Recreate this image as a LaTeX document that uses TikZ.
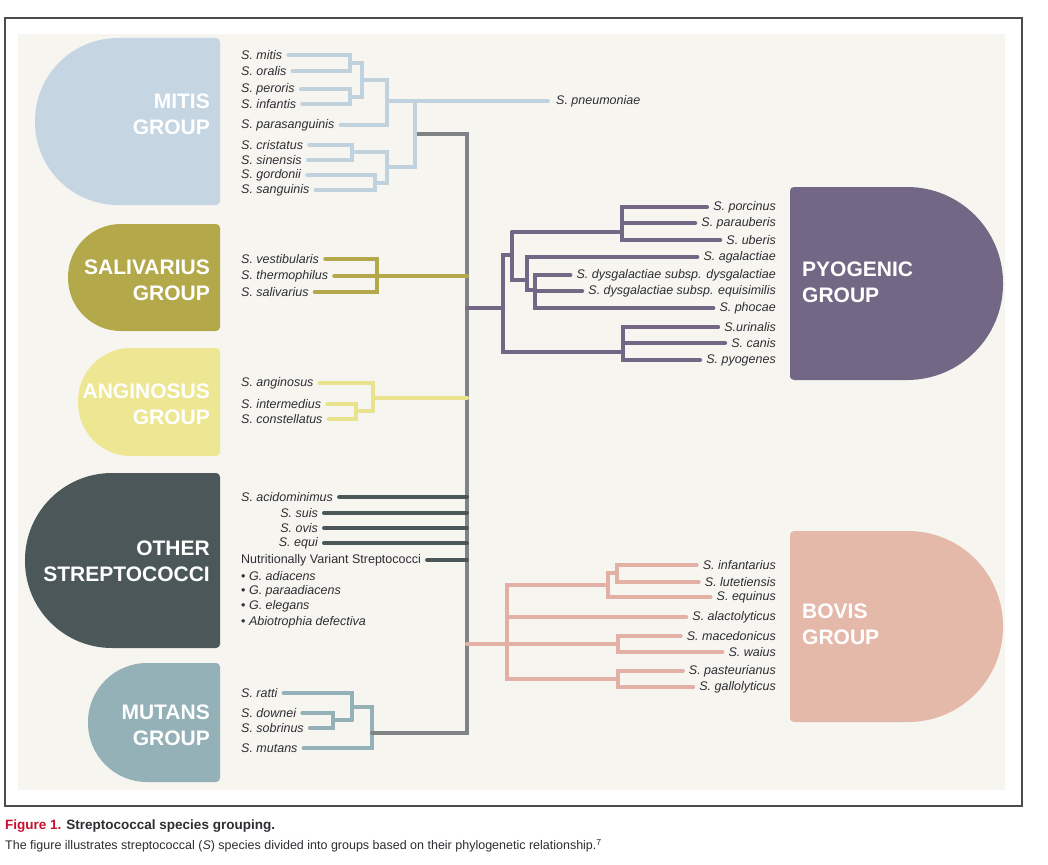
\documentclass[tikz,border=0pt]{standalone}
\usepackage{fontspec}
\setmainfont{Liberation Sans}
\definecolor{bgc}{HTML}{F6F5F0}
\definecolor{mitC}{HTML}{C5D5E2}
\definecolor{mitL}{HTML}{C1D2DF}
\definecolor{salC}{HTML}{B3A94A}
\definecolor{angC}{HTML}{EDE794}
\definecolor{angL}{HTML}{E8E38C}
\definecolor{othC}{HTML}{4B5759}
\definecolor{mutC}{HTML}{93B1B6}
\definecolor{pyoC}{HTML}{726784}
\definecolor{bovC}{HTML}{E5B9AA}
\definecolor{bovL}{HTML}{E2B0A4}
\definecolor{backC}{HTML}{808386}
\definecolor{txt}{HTML}{2E2E33}
\definecolor{figred}{HTML}{C8102E}
\tikzset{
 sp/.style={inner sep=0pt,font=\fontsize{12.5}{13}\selectfont\itshape,text=txt},
 grp/.style={inner sep=0pt,font=\fontsize{21}{26}\selectfont\bfseries,text=white,align=right},
 grpR/.style={inner sep=0pt,font=\fontsize{21}{26}\selectfont\bfseries,text=white,align=left},
 br/.style={line width=4pt,line cap=round,line join=miter},
}
\begin{document}
\begin{tikzpicture}[x=1pt,y=-1pt]
\useasboundingbox (0,0) rectangle (1048,864);
\fill[white] (0,0) rectangle (1048,864);
\draw[line width=1.5pt,black!70] (5,18) rectangle (1022,806);
\fill[bgc] (18,34) rectangle (1005,790);
% left group shapes
\fill[mitC] (220,205) [rounded corners=4pt] -- (220,38) [rounded corners=83pt] -- (35,38) -- (35,205) [rounded corners=4pt] -- (220,205) -- cycle;
\fill[salC] (220,331) [rounded corners=4pt] -- (220,224) [rounded corners=53pt] -- (68,224) -- (68,331) [rounded corners=4pt] -- (220,331) -- cycle;
\fill[angC] (220,456) [rounded corners=4pt] -- (220,348) [rounded corners=53pt] -- (78,348) -- (78,456) [rounded corners=4pt] -- (220,456) -- cycle;
\fill[othC] (220,648) [rounded corners=4pt] -- (220,473) [rounded corners=87pt] -- (25,473) -- (25,648) [rounded corners=4pt] -- (220,648) -- cycle;
\fill[mutC] (220,782) [rounded corners=4pt] -- (220,663) [rounded corners=59pt] -- (88,663) -- (88,782) [rounded corners=4pt] -- (220,782) -- cycle;
\fill[pyoC] (790,380) [rounded corners=4pt] -- (790,187) [rounded corners=96pt] -- (1003,187) -- (1003,380) [rounded corners=4pt] -- (790,380) -- cycle;
\fill[bovC] (790,722) [rounded corners=4pt] -- (790,531) [rounded corners=95pt] -- (1003,531) -- (1003,722) [rounded corners=4pt] -- (790,722) -- cycle;
\node[grp,anchor=east] (gmit) at (210,114) {MITIS\\GROUP};
\node[grp,anchor=east] (gsal) at (210,280) {SALIVARIUS\\GROUP};
\node[grp,anchor=east] (gang) at (210,404) {ANGINOSUS\\GROUP};
\node[grp,anchor=east] (goth) at (210,561) {OTHER\\STREPTOCOCCI};
\node[grp,anchor=east] (gmut) at (210,725) {MUTANS\\GROUP};
\node[grpR,anchor=west] (gpyo) at (802,282) {PYOGENIC\\GROUP};
\node[grpR,anchor=west] (gbov) at (802,624) {BOVIS\\GROUP};
% backbone
\draw[br,backC] (415,134) -- (467,134) -- (467,733) -- (372,733);
% mitis
\node[sp,anchor=west] (mitis) at (241,55) {S. mitis};
\node[sp,anchor=west] (oralis) at (241,71) {S. oralis};
\node[sp,anchor=west] (peroris) at (241,89) {S. peroris};
\node[sp,anchor=west] (infantis) at (241,104) {S. infantis};
\node[sp,anchor=west] (paras) at (241,125) {S. parasanguinis};
\node[sp,anchor=west] (crist) at (241,145) {S. cristatus};
\node[sp,anchor=west] (sinen) at (241,160) {S. sinensis};
\node[sp,anchor=west] (gord) at (241,175) {S. gordonii};
\node[sp,anchor=west] (sangu) at (241,190) {S. sanguinis};
\node[sp,anchor=west] (pneu) at (556,101) {S. pneumoniae};
\begin{scope}[br,mitL]
\draw ([xshift=6pt]mitis.east) -| (350,63) |- ([xshift=6pt]oralis.east);
\draw ([xshift=6pt]peroris.east) -| (350,97) |- ([xshift=6pt]infantis.east);
\draw (350,63) -- (362,63) -- (362,97) -- (350,97);
\draw (362,80) -- (387,80) |- ([xshift=6pt]paras.east);
\draw (387,101) -- ([xshift=-8pt]pneu.west);
\draw ([xshift=6pt]crist.east) -| (352,152) |- ([xshift=6pt]sinen.east);
\draw ([xshift=6pt]gord.east) -| (375,183) |- ([xshift=6pt]sangu.east);
\draw (352,152) -- (387,152) -- (387,183) -- (375,183);
\draw (387,167) -- (415,167) -- (415,101);
\end{scope}
% salivarius
\node[sp,anchor=west] (vest) at (241,259) {S. vestibularis};
\node[sp,anchor=west] (therm) at (241,276) {S. thermophilus};
\node[sp,anchor=west] (saliv) at (241,292) {S. salivarius};
\begin{scope}[br,salC]
\draw ([xshift=6pt]vest.east) -| (377,292) -- ([xshift=6pt]saliv.east);
\draw ([xshift=6pt]therm.east) -- (467,276);
\end{scope}
% anginosus
\node[sp,anchor=west] (angi) at (241,383) {S. anginosus};
\node[sp,anchor=west] (inter) at (241,404) {S. intermedius};
\node[sp,anchor=west] (const) at (241,419) {S. constellatus};
\begin{scope}[br,angL]
\draw ([xshift=6pt]inter.east) -| (356,419) -- ([xshift=6pt]const.east);
\draw (356,411) -- (373,411);
\draw ([xshift=6pt]angi.east) -| (373,411);
\draw (373,398) -- (467,398);
\end{scope}
% other
\node[sp,anchor=west] (acid) at (241,497) {S. acidominimus};
\node[sp,anchor=east] (suis) at (318,513) {S. suis};
\node[sp,anchor=east] (ovis) at (318,528) {S. ovis};
\node[sp,anchor=east] (equi) at (318,543) {S. equi};
\node[sp,anchor=west,font=\fontsize{12.5}{13}\selectfont] (nvs) at (241,560) {Nutritionally Variant Streptococci};
\node[sp,anchor=west] (g1) at (241,576) {\textup{•} G. adiacens};
\node[sp,anchor=west] (g2) at (241,591) {\textup{•} G. paraadiacens};
\node[sp,anchor=west] (g3) at (241,606) {\textup{•} G. elegans};
\node[sp,anchor=west] (g4) at (241,622) {\textup{•} Abiotrophia defectiva};
\begin{scope}[br,othC]
\draw ([xshift=6pt]acid.east) -- (467,497);
\draw ([xshift=6pt]suis.east) -- (467,513);
\draw ([xshift=6pt]ovis.east) -- (467,528);
\draw ([xshift=6pt]equi.east) -- (467,543);
\draw ([xshift=6pt]nvs.east) -- (467,560);
\end{scope}
% mutans
\node[sp,anchor=west] (ratti) at (241,693) {S. ratti};
\node[sp,anchor=west] (downei) at (241,713) {S. downei};
\node[sp,anchor=west] (sobr) at (241,728) {S. sobrinus};
\node[sp,anchor=west] (mutans) at (241,748) {S. mutans};
\begin{scope}[br,mutC]
\draw ([xshift=6pt]downei.east) -| (333,728) -- ([xshift=6pt]sobr.east);
\draw (333,720) -- (352,720);
\draw ([xshift=6pt]ratti.east) -| (352,720);
\draw (352,707) -- (372,707) |- ([xshift=6pt]mutans.east);
\end{scope}
\draw[br,backC] (372,733) -- (467,733);
% pyogenic
\node[sp,anchor=east] (porc) at (776,207) {S. porcinus};
\node[sp,anchor=east] (parau) at (776,223) {S. parauberis};
\node[sp,anchor=east] (uber) at (776,240) {S. uberis};
\node[sp,anchor=east] (agal) at (776,257) {S. agalactiae};
\node[sp,anchor=east] (dysg) at (776,275) {S. dysgalactiae subsp. dysgalactiae};
\node[sp,anchor=east] (equis) at (776,291) {S. dysgalactiae subsp. equisimilis};
\node[sp,anchor=east] (phoc) at (776,308) {S. phocae};
\node[sp,anchor=east] (urin) at (776,327) {S.urinalis};
\node[sp,anchor=east] (canis) at (776,343) {S. canis};
\node[sp,anchor=east] (pyog) at (776,360) {S. pyogenes};
\begin{scope}[br,pyoC]
\draw (467,308) -- (503,308);
\draw (512,255) -- (503,255) -- (503,352) -- (623,352);
\draw ([xshift=-6pt]urin.west) -| (623,360) -- ([xshift=-6pt]pyog.west);
\draw ([xshift=-6pt]canis.west) -- (623,343);
\draw (512,232) -- (512,280) -- (527,280);
\draw (512,232) -- (622,232);
\draw ([xshift=-6pt]porc.west) -| (622,240) -- ([xshift=-6pt]uber.west);
\draw ([xshift=-6pt]parau.west) -- (622,223);
\draw ([xshift=-6pt]agal.west) -| (527,290) -- (535,290);
\draw ([xshift=-6pt]dysg.west) -| (535,308) -- ([xshift=-6pt]phoc.west);
\draw ([xshift=-6pt]equis.west) -- (535,291);
\end{scope}
% bovis
\node[sp,anchor=east] (infa) at (776,565) {S. infantarius};
\node[sp,anchor=east] (lute) at (776,582) {S. lutetiensis};
\node[sp,anchor=east] (equin) at (776,597) {S. equinus};
\node[sp,anchor=east] (alac) at (776,617) {S. alactolyticus};
\node[sp,anchor=east] (mace) at (776,636) {S. macedonicus};
\node[sp,anchor=east] (waius) at (776,652) {S. waius};
\node[sp,anchor=east] (past) at (776,671) {S. pasteurianus};
\node[sp,anchor=east] (gall) at (776,687) {S. gallolyticus};
\begin{scope}[br,bovL]
\draw (467,644) -- (618,644);
\draw (608,585) -- (507,585) -- (507,679) -- (618,679);
\draw ([xshift=-6pt]infa.west) -| (617,582) -- ([xshift=-6pt]lute.west);
\draw (617,573) -- (608,573) |- ([xshift=-6pt]equin.west);
\draw ([xshift=-6pt]alac.west) -- (507,617);
\draw ([xshift=-6pt]mace.west) -| (618,652) -- ([xshift=-6pt]waius.west);
\draw ([xshift=-6pt]past.west) -| (618,687) -- ([xshift=-6pt]gall.west);
\end{scope}
% caption
\node[anchor=west,inner sep=0pt,font=\fontsize{13.5}{15}\selectfont\bfseries] (cap1) at (5,826) {\textcolor{figred}{Figure 1.} \textcolor{txt}{Streptococcal species grouping.}};
\node[anchor=west,inner sep=0pt,font=\fontsize{12.5}{14}\selectfont,text=txt] (cap2) at (5,846) {The figure illustrates streptococcal (\textit{S}) species divided into groups based on their phylogenetic relationship.\textsuperscript{7}};
\end{tikzpicture}
\end{document}
